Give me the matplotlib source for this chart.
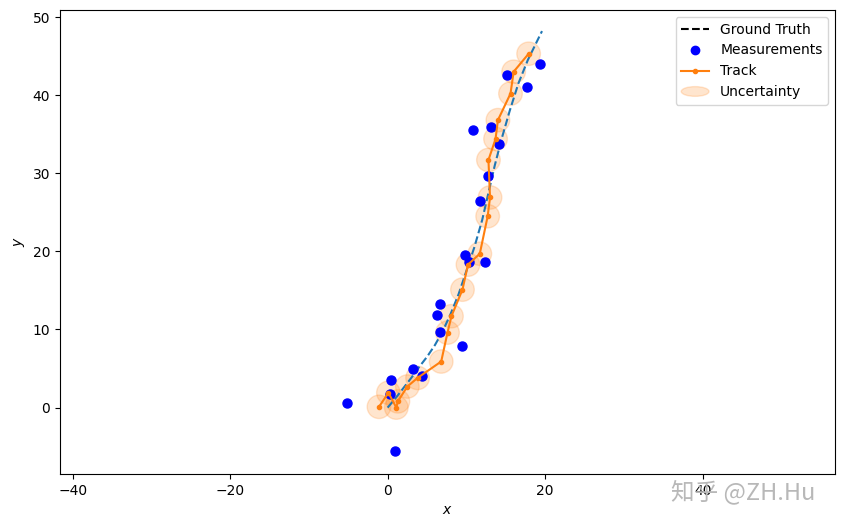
import matplotlib.pyplot as plt
from matplotlib.patches import Ellipse
from matplotlib.lines import Line2D
from matplotlib.legend_handler import HandlerPatch
import numpy as np

plt.rcParams['font.family'] = ['DejaVu Sans', 'Noto Sans CJK SC']

# ground truth path
truth_x = [0, 1, 2, 3, 4, 5, 6, 7, 8, 9, 10, 11, 12, 12.8, 13.6, 14.5, 15.5, 16.6, 17.8, 19.6]
truth_y = [0, 1.2, 2.5, 3.8, 5.2, 6.5, 8.0, 9.8, 12.0, 14.5, 17.5, 20.5, 24.0, 27.5, 31.0, 34.5, 38.0, 41.5, 44.5, 48.2]

# measurements
meas_x = [-5.1, 0.9, 0.4, 0.25, 3.2, 4.4, 6.7, 6.3, 6.6, 9.5, 9.8,
          10.3, 12.3, 11.7, 12.7, 14.2, 13.1, 10.9, 17.7, 15.2, 19.4]
meas_y = [0.6, -5.5, 3.5, 1.8, 4.9, 4.1, 9.7, 11.9, 13.3, 7.9, 19.5,
          18.6, 18.7, 26.4, 29.6, 33.8, 35.9, 35.6, 41.0, 42.6, 44.0]

# track estimates
track_x = [-1.1, 0.1, 1.1, 1.3, 2.5, 3.8, 6.8, 7.6, 8.1, 9.5, 10.2,
           11.7, 12.7, 13.0, 12.8, 13.7, 14.0, 15.6, 16.0, 17.9]
track_y = [0.1, 1.9, 0.0, 0.8, 2.7, 3.8, 5.9, 9.6, 11.7, 15.1, 18.3,
           19.7, 24.5, 26.9, 31.7, 34.4, 36.8, 40.2, 43.0, 45.3]


class HandlerEllipse(HandlerPatch):
    def create_artists(self, legend, orig_handle, xdescent, ydescent,
                       width, height, fontsize, trans):
        center = 0.5 * width - 0.5 * xdescent, 0.5 * height - 0.5 * ydescent
        p = Ellipse(xy=center, width=width + xdescent, height=height + ydescent)
        self.update_prop(p, orig_handle, legend)
        p.set_transform(trans)
        return [p]


fig = plt.figure(figsize=(8.42, 5.25), dpi=100)
ax = fig.add_axes([60 / 842, 51 / 525, 775 / 842, 464 / 525])

ax.plot(truth_x, truth_y, linestyle='--', color='tab:blue')
ax.plot(meas_x, meas_y, 'o', color='b', markersize=6.5)

for x, y in zip(track_x, track_y):
    ax.add_patch(Ellipse((x, y), 3.0, 3.0, color='tab:orange', alpha=0.2))
ax.plot(track_x, track_y, '-', marker='.', color='tab:orange', markersize=6)

ax.set_xlim(-41.6, 56.8)
ax.set_ylim(-8.5, 50.9)
ax.set_xticks([-40, -20, 0, 20, 40])
ax.set_yticks([0, 10, 20, 30, 40, 50])
ax.set_xlabel('$x$')
ax.set_ylabel('$y$')

h_truth = Line2D([], [], linestyle='--', color='k')
h_meas = Line2D([], [], linestyle='', marker='o', color='b')
h_track = Line2D([], [], marker='.', color='tab:orange')
h_unc = Ellipse((0, 0), 1, 1, color='tab:orange', alpha=0.2)
ax.legend([h_truth, h_meas, h_track, h_unc],
          ['Ground Truth', 'Measurements', 'Track', 'Uncertainty'],
          loc='upper right', handler_map={Ellipse: HandlerEllipse()})

# watermark
fig.text(743 / 842, 1 - 492 / 525, '知乎 @ZH.Hu', fontsize=17, color='#b8b8b8',
         ha='center', va='center', family=['Noto Sans CJK SC', 'DejaVu Sans'])

fig.savefig('out.png', dpi=100)
